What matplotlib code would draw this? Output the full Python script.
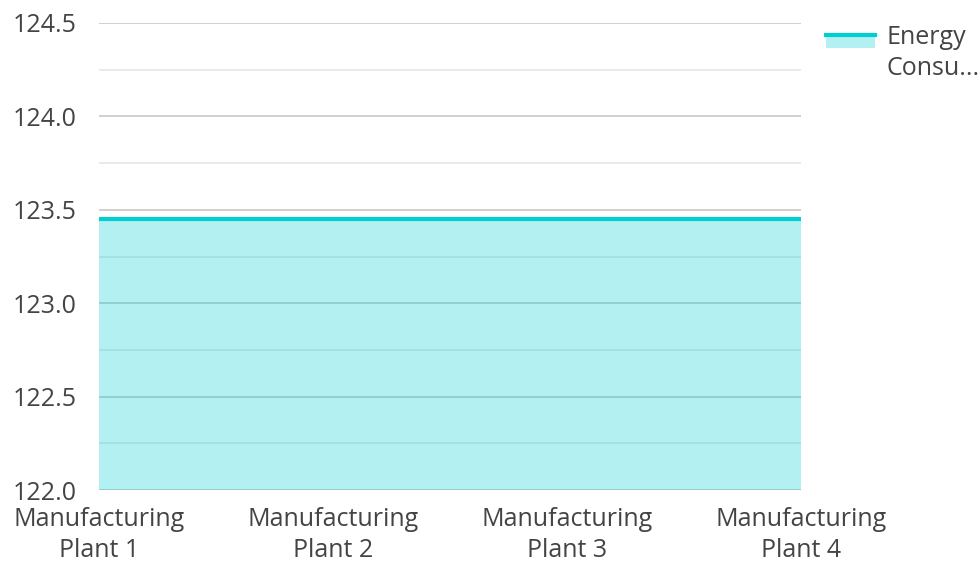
import matplotlib
matplotlib.use("Agg")
import matplotlib.pyplot as plt
from matplotlib.lines import Line2D
from matplotlib.patches import Rectangle
from matplotlib.ticker import MultipleLocator, FormatStrFormatter

plt.rcParams['font.family'] = ['Open Sans', 'DejaVu Sans']

# data
plants = ["Manufacturing\nPlant 1", "Manufacturing\nPlant 2",
          "Manufacturing\nPlant 3", "Manufacturing\nPlant 4"]
energy = [123.45, 123.45, 123.45, 123.45]
series_name = "Energy\nConsu..."

line_color = "#00CED1"
text_color = "#444444"

fig = plt.figure(figsize=(9.8, 5.62), dpi=100)
ax = fig.add_axes([99/980, 72/562, 702/980, 467/562])

x = range(len(plants))
ax.fill_between(x, 122.0, energy, color=line_color, alpha=0.3, linewidth=0, zorder=3)
ax.plot(x, energy, color=line_color, linewidth=3, zorder=4)

ax.set_xlim(0, len(plants) - 1)
ax.set_ylim(122.0, 124.5)
ax.yaxis.set_major_locator(MultipleLocator(0.5))
ax.yaxis.set_minor_locator(MultipleLocator(0.25))
ax.yaxis.set_major_formatter(FormatStrFormatter('%.1f'))
ax.grid(which='major', axis='y', color='#C8C8C8', linewidth=1.2, zorder=1)
ax.grid(which='minor', axis='y', color='#E6E6E6', linewidth=1.2, zorder=1)
ax.set_axisbelow(True)

ax.set_xticks(list(x))
ax.set_xticklabels(plants, color=text_color, fontsize=18, linespacing=1.33)
ax.tick_params(axis='x', length=0, pad=12)
ax.tick_params(axis='y', which='both', length=0, pad=16, labelsize=18, labelcolor=text_color)

for s in ax.spines.values():
    s.set_visible(False)

# legend drawn by hand, top right
fig.patches.append(Rectangle((826/980, 1 - 48/562), 49/980, 14/562,
                             transform=fig.transFigure, color=line_color,
                             alpha=0.3, linewidth=0))
fig.lines.append(Line2D([826/980, 875/980], [1 - 35/562, 1 - 35/562],
                        transform=fig.transFigure, color=line_color, linewidth=3))
fig.text(886/980, 1 - 25/562, series_name, color=text_color, fontsize=18,
         va='top', ha='left', linespacing=1.33)

fig.savefig("out.png", dpi=100)
